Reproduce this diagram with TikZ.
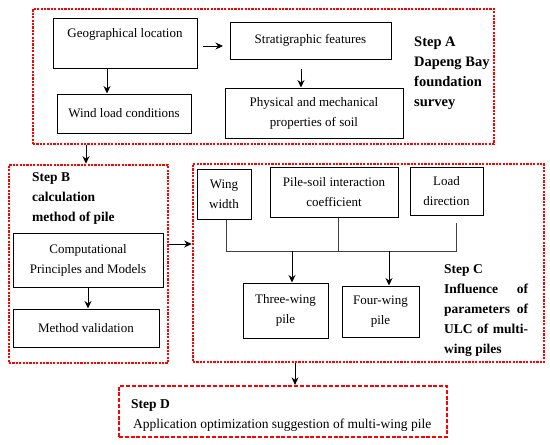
\documentclass[tikz,border=0pt]{standalone}
\usepackage{fontspec}
\setmainfont{Liberation Serif}
\usetikzlibrary{arrows.meta}
\tikzset{
  box/.style={draw=black, line width=1pt, align=center, inner sep=1pt,
    font=\fontsize{13pt}{20pt}\selectfont},
  stepA/.style={draw=red, line width=2.6pt, dash pattern=on 2.2pt off 1.2pt},
  stepD/.style={draw=red, line width=2.3pt, dash pattern=on 4pt off 1.8pt},
  steptxt/.style={align=left, inner sep=0pt, font=\fontsize{13.5pt}{20pt}\selectfont\bfseries},
  arr/.style={-{Stealth[length=7.5pt,width=7pt]}, line width=0.9pt},
  link/.style={draw=black!75, line width=0.8pt}
}
\begin{document}
\begin{tikzpicture}[x=1pt,y=-1pt]
\useasboundingbox (0,0) rectangle (550,445);
% frames
\node[stepA, minimum width=461pt, minimum height=135pt, inner sep=0pt] (boxA) at (263.5,76.5) {};
\node[stepA, minimum width=159pt, minimum height=198pt, inner sep=0pt] (boxB) at (88.5,264) {};
\node[stepA, minimum width=351pt, minimum height=198pt, inner sep=0pt] (boxC) at (368.5,263) {};
\node[stepD, minimum width=328pt, minimum height=51pt, inner sep=0pt] (boxD) at (283,411.5) {};
% step A
\node[box, minimum width=144pt, minimum height=50pt] (geo) at (125,43) {Geographical location\\\mbox{}};
\node[box, minimum width=161pt, minimum height=37pt] (strat) at (310.5,40.5) {Stratigraphic features};
\node[box, minimum width=134pt, minimum height=39pt] (wind) at (124,113.5) {Wind load conditions};
\node[box, minimum width=178pt, minimum height=50pt] (phys) at (314,113) {Physical and mechanical\\properties of soil};
\node[steptxt, anchor=north west, font=\fontsize{14.5pt}{20pt}\selectfont\bfseries] (tA) at (414,37) {Step A\\Dapeng Bay\\foundation\\survey};
\coordinate (g1) at (203,46);
\coordinate (g2) at (223,46);
\draw[arr] (g1) -- (g2);
\draw[arr] (geo.south -| 107,0) -- (wind.north -| 107,0);
\draw[arr] (strat.south -| 301,0) ++(0,9) -- (phys.north -| 301,0);
% A -> B
\coordinate (ab) at (86,0);
\draw[arr] (boxA.south -| ab) -- (boxB.north -| ab);
% step B
\node[steptxt, anchor=north west] (tB) at (32,172) {Step B\\calculation\\method of pile};
\node[box, minimum width=150pt, minimum height=54pt] (comp) at (88,260) {Computational\\Principles and Models};
\node[box, minimum width=146pt, minimum height=38pt] (meth) at (86,328) {Method validation};
\draw[arr] (comp.south) -- (comp.south |- meth.north);
% B -> C
\coordinate (bc) at (0,244);
\draw[arr] (boxB.east |- bc) -- (boxC.west |- bc);
% step C
\node[box, minimum width=54pt, minimum height=50pt] (wing) at (224,194) {Wing\\width};
\node[box, minimum width=128pt, minimum height=50pt] (pile) at (334,192) {Pile-soil interaction\\coefficient};
\node[box, minimum width=73pt, minimum height=48pt] (load) at (446.5,191) {Load\\direction};
\node[box, minimum width=85pt, minimum height=55pt] (three) at (285.5,310.5) {Three-wing\\pile};
\node[box, minimum width=77pt, minimum height=51pt] (four) at (380.5,311.5) {Four-wing\\pile};
\coordinate (hl) at (226,251);
\coordinate (hr) at (456,251);
\coordinate (lt) at (456,223);
\draw[link] (wing.south -| hl) -- (hl) -- (hr) -- (lt);
\draw[link] (pile.south -| 338,0) -- (338,251);
\draw[arr] (292,251) -- (three.north -| 292,0);
\draw[arr] (389,251) -- (four.north -| 389,0);
\node[steptxt, anchor=north west] (tC) at (444,264) {Step C\\\makebox[84pt][s]{Influence of}\\\makebox[84pt][s]{parameters of}\\\makebox[84pt][s]{ULC of multi-}\\wing piles};
% C -> D
\coordinate (cd) at (295,0);
\draw[arr] (boxC.south -| cd) -- (boxD.north -| cd);
% step D
\node[anchor=north west, align=left, inner sep=0pt, font=\fontsize{13.5pt}{20pt}\selectfont] (tD) at (131,399) {\textbf{Step D}\\\hspace*{2pt}Application optimization suggestion of multi-wing pile};
\end{tikzpicture}
\end{document}
